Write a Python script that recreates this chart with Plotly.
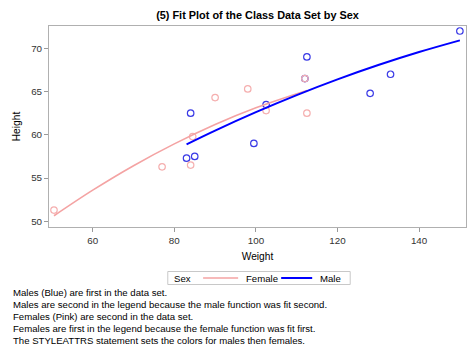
import plotly.graph_objects as go

# Data (SASHELP.CLASS style)
male_weight = [112.5, 102.5, 83.0, 84.0, 99.5, 150.0, 128.0, 133.0, 85.0, 112.0]
male_height = [69.0, 63.5, 57.3, 62.5, 59.0, 72.0, 64.8, 67.0, 57.5, 66.5]
female_weight = [84.0, 98.0, 102.5, 84.5, 112.5, 50.5, 90.0, 77.0, 112.0]
female_height = [56.5, 65.3, 62.8, 59.8, 62.5, 51.3, 64.3, 56.3, 66.5]

# Fit curves
female_fit_x = [50.5, 60, 70, 80, 90, 100, 112.5]
female_fit_y = [50.64, 53.60, 56.43, 58.95, 61.19, 63.12, 65.12]
male_fit_x = [83, 90, 100, 110, 120, 130, 140, 150]
male_fit_y = [58.9, 60.49, 62.62, 64.59, 66.41, 68.07, 69.57, 70.92]

x_ticks = [60, 80, 100, 120, 140]
y_ticks = [50, 55, 60, 65, 70]

legend_title = "Sex"
legend_names = ["Female", "Male"]

footnotes = [
    "Males (Blue) are first in the data set.",
    "Males are second in the legend because the male function was fit second.",
    "Females (Pink) are second in the data set.",
    "Females are first in the legend because the female function was fit first.",
    "The STYLEATTRS statement sets the colors for males then females.",
]

BLUE_LINE = "#0000FF"
BLUE_MARK = "#3A3AE6"
PINK_LINE = "#F4A3A3"
PINK_MARK = "#F5AFAF"
FONT = "Liberation Sans, Arial, sans-serif"

fig = go.Figure()
fig.add_trace(go.Scatter(x=male_weight, y=male_height, mode="markers", showlegend=False,
                         marker=dict(symbol="circle-open", size=6.5, color=BLUE_MARK, line=dict(width=1.2))))
fig.add_trace(go.Scatter(x=female_weight, y=female_height, mode="markers", showlegend=False,
                         marker=dict(symbol="circle-open", size=6.5, color=PINK_MARK, line=dict(width=1.2))))
fig.add_trace(go.Scatter(x=female_fit_x, y=female_fit_y, mode="lines", name=legend_names[0], showlegend=False,
                         line=dict(color=PINK_LINE, width=1.6, shape="spline")))
fig.add_trace(go.Scatter(x=male_fit_x, y=male_fit_y, mode="lines", name=legend_names[1], showlegend=False,
                         line=dict(color=BLUE_LINE, width=2, shape="spline")))

W, H = 474, 355
L, R, T, B = 49, 8.3, 26, 128
ph = H - T - B
pw = W - L - R


def px(xp):
    return (xp - L) / pw


def py(yp):
    return (H - B - yp) / ph


annotations = []
for i, t in enumerate(footnotes):
    yy = 292.7 + i * 12.0
    annotations.append(dict(text=t, xref="paper", yref="paper", x=px(11), y=py(yy),
                            xanchor="left", yanchor="middle", showarrow=False,
                            font=dict(family=FONT, size=9.6, color="#000000")))

# Manual legend
leg_y = 278
shapes = [
    dict(type="rect", xref="paper", yref="paper", x0=px(167.7), x1=px(350), y0=py(271.5), y1=py(284.5),
         line=dict(color="#c8c8c8", width=1), fillcolor="rgba(0,0,0,0)"),
    dict(type="line", xref="paper", yref="paper", x0=px(203), x1=px(238), y0=py(leg_y), y1=py(leg_y),
         line=dict(color=PINK_LINE, width=1.6)),
    dict(type="line", xref="paper", yref="paper", x0=px(281), x1=px(312), y0=py(leg_y), y1=py(leg_y),
         line=dict(color=BLUE_LINE, width=2)),
]
for txt, xx in [(legend_title, 172), (legend_names[0], 243.5), (legend_names[1], 318)]:
    annotations.append(dict(text=txt, xref="paper", yref="paper", x=px(xx), y=py(leg_y),
                            xanchor="left", yanchor="middle", showarrow=False,
                            font=dict(family=FONT, size=9.6, color="#000000")))

fig.update_layout(
    width=W, height=H,
    margin=dict(l=L, r=R, t=T, b=B, pad=0, autoexpand=False),
    paper_bgcolor="white", plot_bgcolor="white",
    showlegend=False,
    font=dict(family=FONT, size=11, color="#000000"),
    title=dict(text="<b>(5) Fit Plot of the Class Data Set by Sex</b>", x=(257.5) / W, xanchor="center",
               y=1 - 15 / H, yanchor="middle", font=dict(family=FONT, size=10.9, color="#000000")),
    xaxis=dict(range=[49.28, 151.5], tickvals=x_ticks, ticks="outside", ticklen=4, tickcolor="#9a9a9a",
               showgrid=False, zeroline=False, showline=True, linecolor="#b0b0b0", linewidth=1, mirror=True,
               automargin=False,
               tickfont=dict(family=FONT, size=9.8, color="#333333"),
               title=dict(text="Weight", standoff=8, font=dict(family=FONT, size=10.2, color="#000000"))),
    yaxis=dict(range=[49.34, 72.58], tickvals=y_ticks, ticks="outside", ticklen=4, tickcolor="#9a9a9a",
               showgrid=False, zeroline=False, showline=True, linecolor="#b0b0b0", linewidth=1, mirror=True,
               automargin=False,
               tickfont=dict(family=FONT, size=9.8, color="#333333"),
               title=dict(text="Height", standoff=8, font=dict(family=FONT, size=10.2, color="#000000"))),
    shapes=shapes,
    annotations=annotations,
)

fig.write_html("out.html", config={"displayModeBar": False},
               post_script="document.body.style.margin='0';document.body.style.padding='0';")
